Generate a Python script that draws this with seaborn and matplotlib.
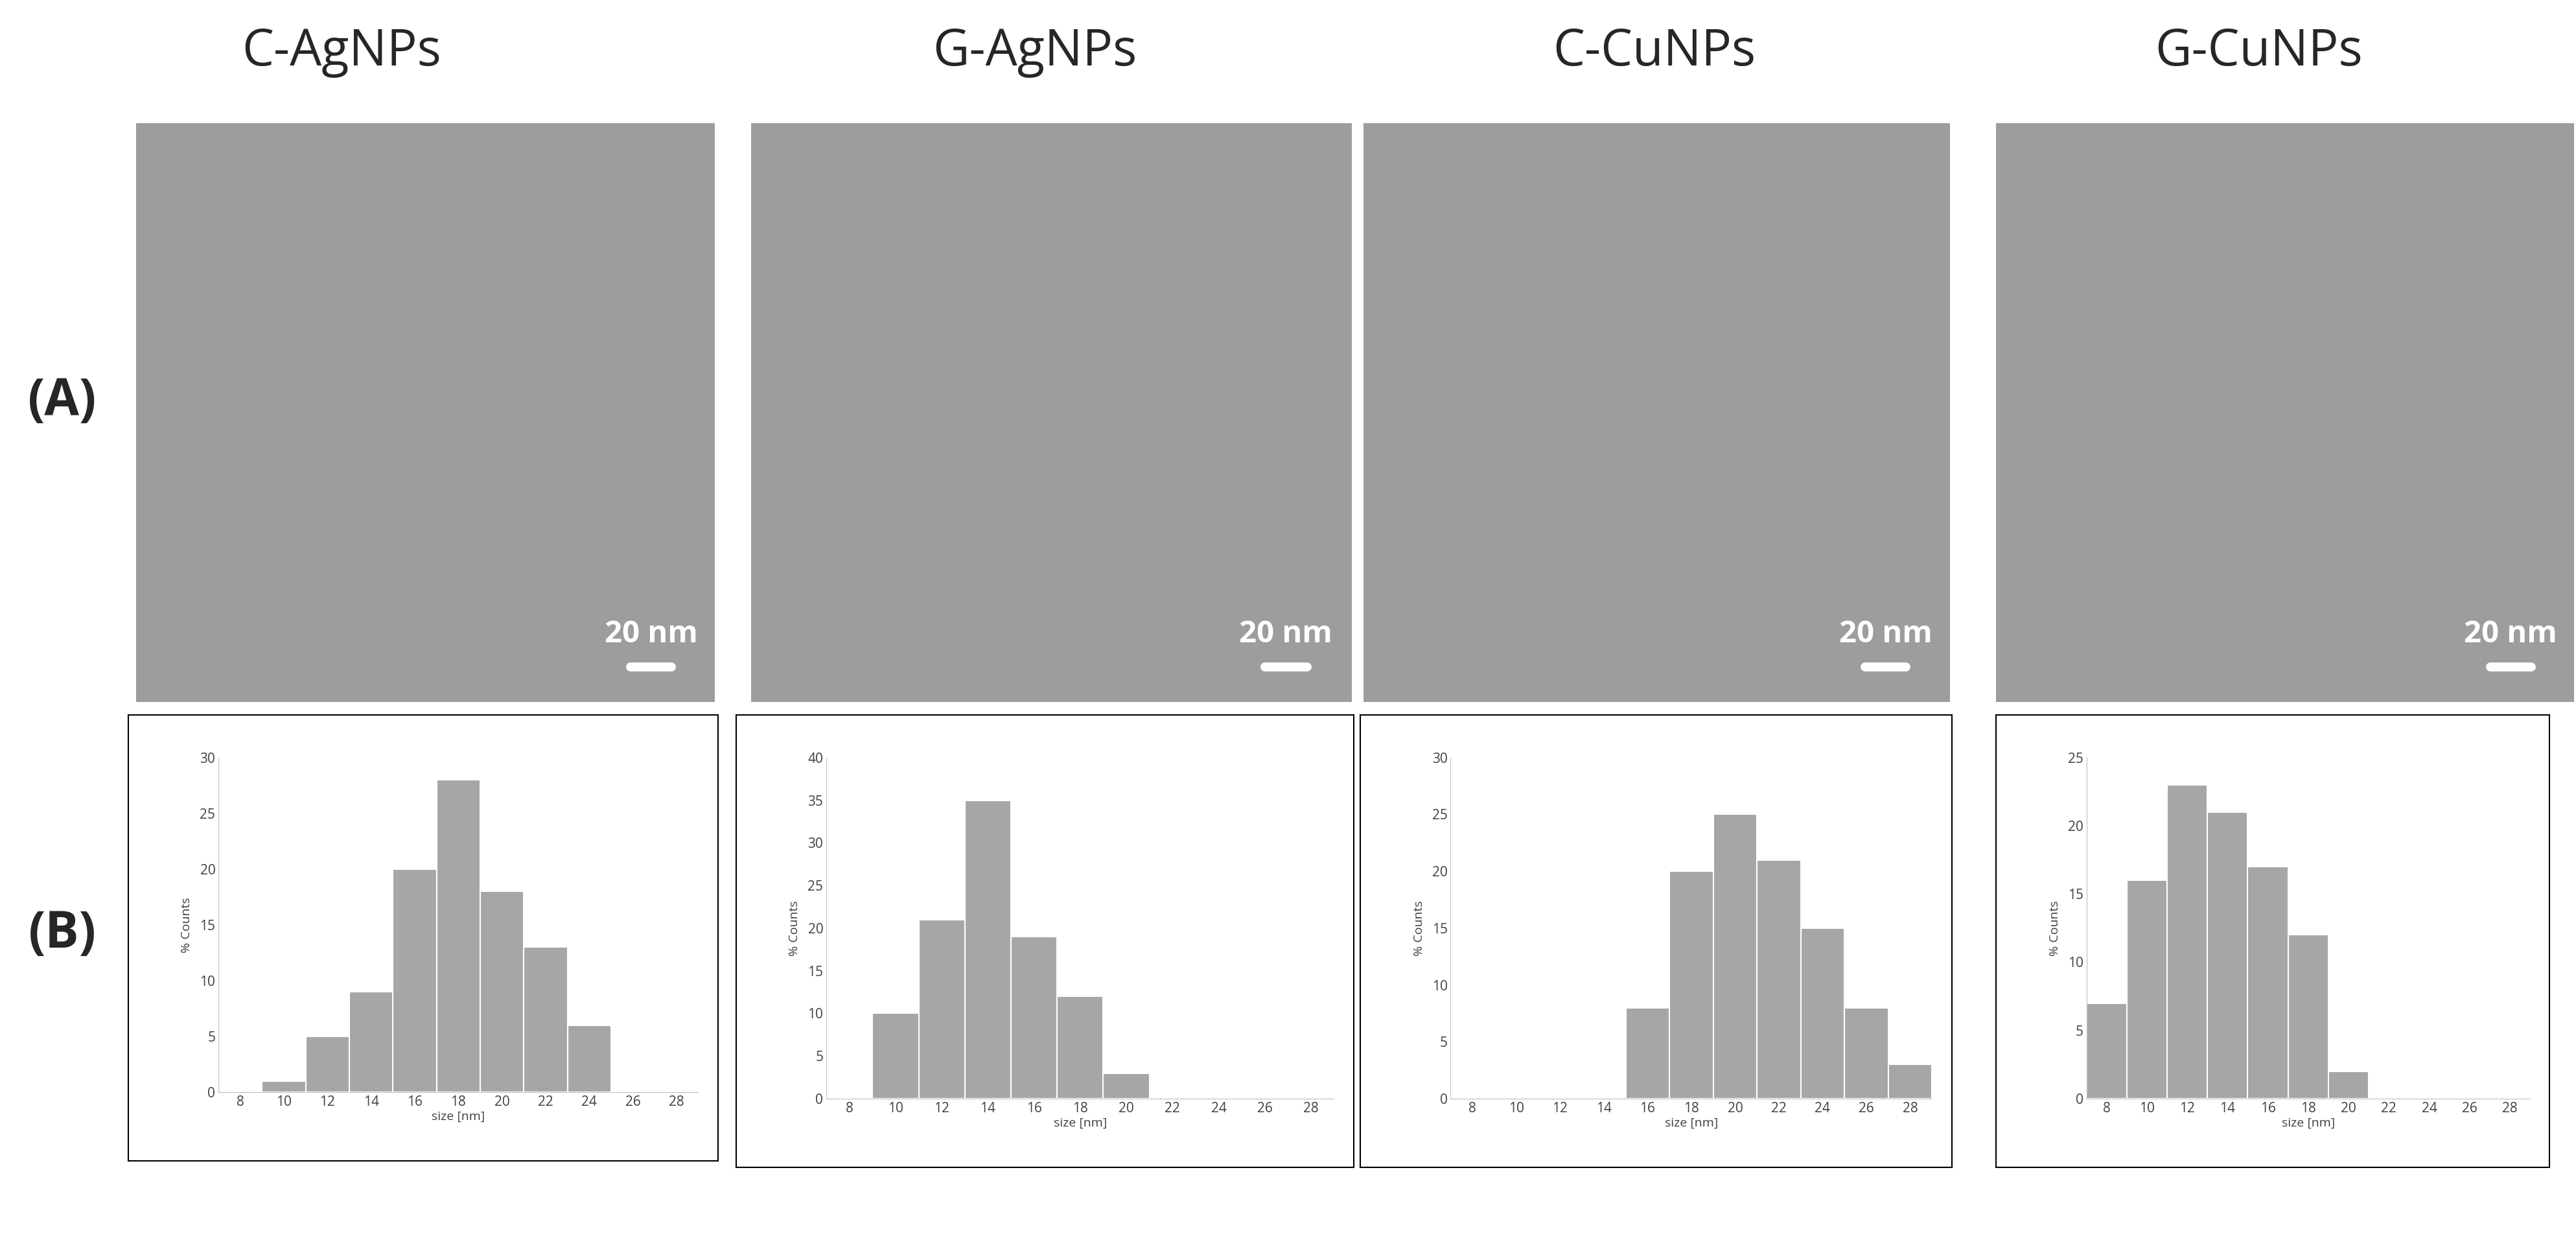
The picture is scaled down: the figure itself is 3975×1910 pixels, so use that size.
import numpy as np
import pandas as pd
import matplotlib.pyplot as plt
import seaborn as sns

# Data (% counts per 2 nm bin, bins centred on even sizes)
samples = ["C-AgNPs", "G-AgNPs", "C-CuNPs", "G-CuNPs"]
centers_ag_c = [10, 12, 14, 16, 18, 20, 22, 24]
counts_ag_c = [1, 5, 9, 20, 28, 18, 13, 6]
centers_ag_g = [10, 12, 14, 16, 18, 20]
counts_ag_g = [10, 21, 35, 19, 12, 3]
centers_cu_c = [16, 18, 20, 22, 24, 26, 28]
counts_cu_c = [8, 20, 25, 21, 15, 8, 3]
centers_cu_g = [8, 10, 12, 14, 16, 18, 20]
counts_cu_g = [7, 16, 23, 21, 17, 12, 2]
y_maxes = [30, 40, 30, 25]
y_steps = [5, 5, 5, 5]
x_ticks = list(range(8, 29, 2))

data = [(centers_ag_c, counts_ag_c), (centers_ag_g, counts_ag_g),
        (centers_cu_c, counts_cu_c), (centers_cu_g, counts_cu_g)]

sns.set_style("white")
plt.rcParams["font.family"] = ["Open Sans", "DejaVu Sans"]

W, H = 1568, 755
fig = plt.figure(figsize=(39.75, 19.1), dpi=100)


def box(x0, y0, x1, y1):
    # convert reference pixel box (display scale) to figure fractions
    return [x0 / W, 1 - y1 / H, (x1 - x0) / W, (y1 - y0) / H]


# image panel positions and histogram boxes
img_boxes = [(83, 75, 435, 428), (457, 75, 823, 428), (830, 75, 1187, 428), (1215, 75, 1567, 428)]
frame_boxes = [(78, 436, 437, 708), (448, 436, 824, 712), (828, 436, 1188, 712), (1215, 436, 1552, 712)]
title_x = [208, 630, 1007, 1375]

for i, name in enumerate(samples):
    fig.text(title_x[i] / W, 1 - 32 / H, name, ha="center", va="center", fontsize=56)

    # placeholder for the TEM micrograph
    ax_img = fig.add_axes(box(*img_boxes[i]))
    ax_img.set_facecolor("#9d9d9d")
    ax_img.set_xticks([])
    ax_img.set_yticks([])
    for s in ax_img.spines.values():
        s.set_visible(False)
    ax_img.plot([0.855, 0.925], [0.06, 0.06], color="white", lw=10, transform=ax_img.transAxes)
    ax_img.text(0.89, 0.09, "20 nm", color="white", fontsize=34, fontweight="bold",
                ha="center", va="bottom", transform=ax_img.transAxes)

    # frame around histogram
    ax_fr = fig.add_axes(box(*frame_boxes[i]))
    ax_fr.set_xticks([])
    ax_fr.set_yticks([])
    for s in ax_fr.spines.values():
        s.set_color("black")
        s.set_linewidth(1.5)

    # histogram
    fx0, fy0, fx1, fy1 = frame_boxes[i]
    ax = fig.add_axes(box(fx0 + 55, fy0 + 26, fx1 - 12, fy1 - 42))
    centers, counts = data[i]
    df = pd.DataFrame({"size": centers, "pct": counts})
    sns.histplot(data=df, x="size", weights="pct", binwidth=2, binrange=(7, 29),
                 color="#a6a6a6", edgecolor="white", linewidth=1.5, alpha=1, ax=ax)
    ax.set_xlim(7, 29)
    ax.set_ylim(0, y_maxes[i])
    ax.set_xticks(x_ticks)
    ax.set_yticks(range(0, y_maxes[i] + 1, y_steps[i]))
    ax.tick_params(labelsize=15, colors="#404040", length=0)
    ax.set_xlabel("size [nm]", fontsize=14, color="#404040", labelpad=2)
    ax.set_ylabel("% Counts", fontsize=14, color="#404040", labelpad=8)
    for s in ["top", "right"]:
        ax.spines[s].set_visible(False)
    ax.spines["left"].set_color("#bfbfbf")
    ax.spines["bottom"].set_color("#bfbfbf")

fig.text(38 / W, 1 - 245 / H, "(A)", fontsize=56, fontweight="bold", ha="center", va="center")
fig.text(38 / W, 1 - 570 / H, "(B)", fontsize=56, fontweight="bold", ha="center", va="center")

plt.savefig("out.png", dpi=100, facecolor="white")
